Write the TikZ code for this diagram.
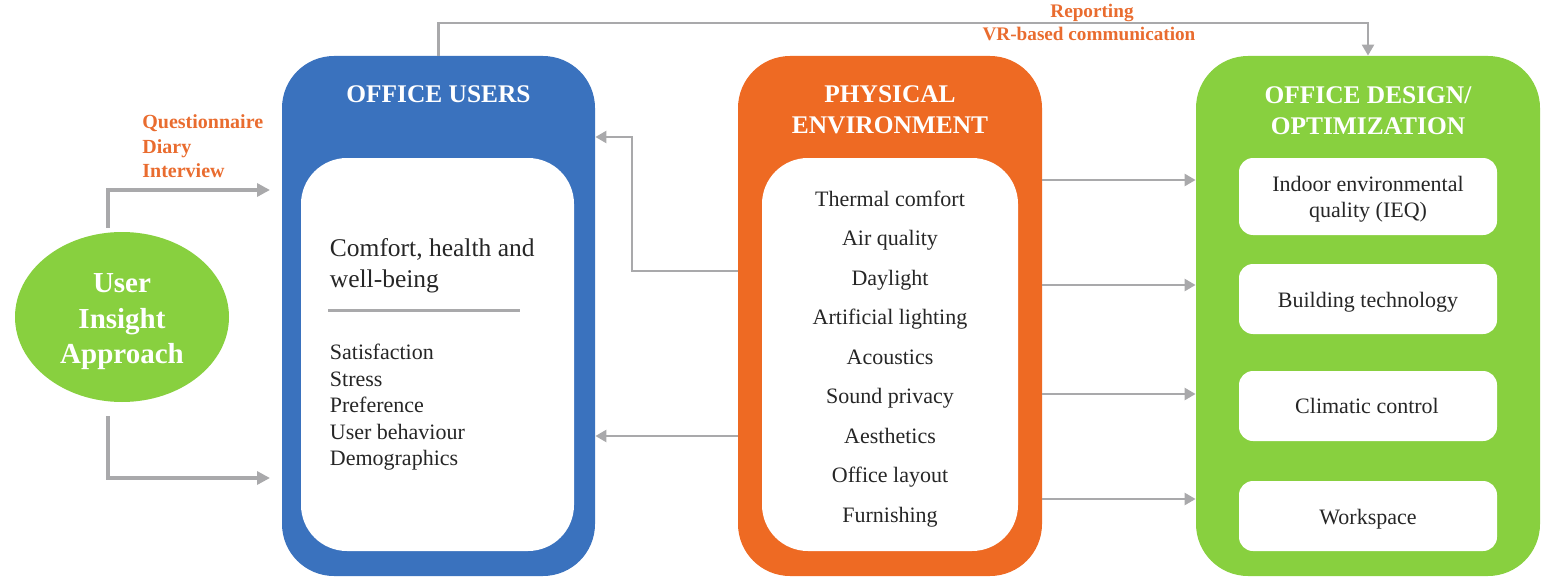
\documentclass[tikz,border=0pt]{standalone}
\usepackage{fontspec}
\setmainfont{Liberation Serif}
\usepackage{tikz}
\usetikzlibrary{arrows.meta,shapes.geometric}
\definecolor{officeblue}{HTML}{3A72BE}
\definecolor{envorange}{HTML}{EE6A23}
\definecolor{designgreen}{HTML}{88D03F}
\definecolor{linkgray}{HTML}{A9A9AB}
\definecolor{methodorange}{HTML}{E96C2F}

\begin{document}
\begin{tikzpicture}[x=0.5pt,y=-0.5pt]
\tikzstyle{every node}+=[inner sep=0pt]
\tikzstyle{panel}=[minimum height=260pt,rounded corners=26pt]
\tikzstyle{inset}=[fill=white,minimum height=196.5pt,rounded corners=23pt]
\tikzstyle{factor}=[fill=white,minimum width=129pt,rounded corners=7pt]
\tikzstyle{title}=[text=white,align=center,font=\fontsize{12.7}{15.25}\selectfont\bfseries]
\tikzstyle{item}=[anchor=base,text=black!85,font=\fontsize{11}{13}\selectfont]
\tikzstyle{method}=[anchor=base west,text=methodorange,font=\fontsize{10}{12}\selectfont\bfseries]
\tikzstyle{report}=[anchor=base,text=methodorange,font=\fontsize{9.6}{12}\selectfont\bfseries]
\tikzstyle{flow}=[draw=linkgray,line width=1.2pt,-{Triangle[length=5.5pt,width=6pt]}]
\tikzstyle{thickflow}=[draw=linkgray,line width=2pt,-{Triangle[length=6.5pt,width=6.5pt]}]
\useasboundingbox (0,0) rectangle (1563,583);
\node [panel,fill=officeblue,minimum width=156.5pt] (users) at (438.5,316) {};
\node [panel,fill=envorange,minimum width=152pt] (physical) at (890,316) {};
\node [panel,fill=designgreen,minimum width=172pt] (design) at (1368,316) {};
\node [inset,minimum width=136.5pt] (usersbox) at (437.5,354.5) {};
\node [inset,minimum width=128pt] (physicalbox) at (890,354.5) {};
\node [factor,minimum height=38.5pt] (ieq) at (1368,196.5) {};
\node [factor,minimum height=35pt] (technology) at (1368,299) {};
\node [factor,minimum height=35pt] (climatic) at (1368,406) {};
\node [factor,minimum height=35pt] (workspace) at (1368,516) {};
\node [ellipse,fill=designgreen,minimum width=107pt,minimum height=85pt] (insight) at (122,317) {};
\node [text=white,align=center,font=\fontsize{14.5}{17.75}\selectfont\bfseries] (insighttext) at (122,322) {User\\Insight\\Approach};
\node [title] (userstitle) at (438.5,94) {OFFICE USERS};
\node [title] (physicaltitle) at (890,110) {PHYSICAL\\ENVIRONMENT};
\node [title] (designtitle) at (1368,110.5) {OFFICE DESIGN/\\OPTIMIZATION};
\node [anchor=west,align=left,text=black!85,font=\fontsize{12.75}{15.5}\selectfont] (wellbeing) at (329.5,265.5) {Comfort, health and\\well-being};
\node [anchor=north west,align=left,text=black!85,font=\fontsize{11}{13.25}\selectfont] (outcomes) at (329.5,344) {Satisfaction\\Stress\\Preference\\User behaviour\\Demographics};
\coordinate (ruleleft) at (328,310);
\coordinate (ruleright) at (520,310);
\draw [draw=linkgray,line width=1.5pt] (ruleleft) -- (ruleright);
\node [item] (thermal) at (890,206) {Thermal comfort};
\node [item] (air) at (890,245) {Air quality};
\node [item] (daylight) at (890,285) {Daylight};
\node [item] (lighting) at (890,324) {Artificial lighting};
\node [item] (acoustics) at (890,364) {Acoustics};
\node [item] (privacy) at (890,403) {Sound privacy};
\node [item] (aesthetics) at (890,443) {Aesthetics};
\node [item] (layout) at (890,482) {Office layout};
\node [item] (furnishing) at (890,522) {Furnishing};
\node [align=center,text=black!85,font=\fontsize{11}{13}\selectfont] (ieqtext) at (1368,199) {Indoor environmental\\quality (IEQ)};
\node [text=black!85,font=\fontsize{11}{13}\selectfont] (technologytext) at (1368,302) {Building technology};
\node [text=black!85,font=\fontsize{11}{13}\selectfont] (climatictext) at (1367,406) {Climatic control};
\node [text=black!85,font=\fontsize{11}{13}\selectfont] (workspacetext) at (1368,519) {Workspace};
\node [method] (questionnaire) at (142,129) {Questionnaire};
\node [method] (diary) at (142,154) {Diary};
\node [method] (interview) at (142,177) {Interview};
\node [report] (reporting) at (1092,18) {Reporting};
\node [report] (vr) at (1089,41) {VR-based communication};
\coordinate (insightup) at (108,228);
\coordinate (insightdown) at (108,416);
\coordinate (usersupper) at (270,190);
\coordinate (userslower) at (270,478);
\coordinate (toprail) at (900,23);
\draw [thickflow] (insightup) |- (usersupper);
\draw [thickflow] (insightdown) |- (userslower);
\draw [flow] (users.north) |- (toprail) -| (design.north);
\draw [flow] (physical.west |- 0,271) -- (632,271) -- (632,137) -- (users.east |- 0,137);
\draw [flow] (physical.west |- 0,436) -- (users.east |- 0,436);
\draw [flow] (physical.east |- 0,180) -- (design.west |- 0,180);
\draw [flow] (physical.east |- 0,285) -- (design.west |- 0,285);
\draw [flow] (physical.east |- 0,394) -- (design.west |- 0,394);
\draw [flow] (physical.east |- 0,499) -- (design.west |- 0,499);
\end{tikzpicture}
\end{document}
